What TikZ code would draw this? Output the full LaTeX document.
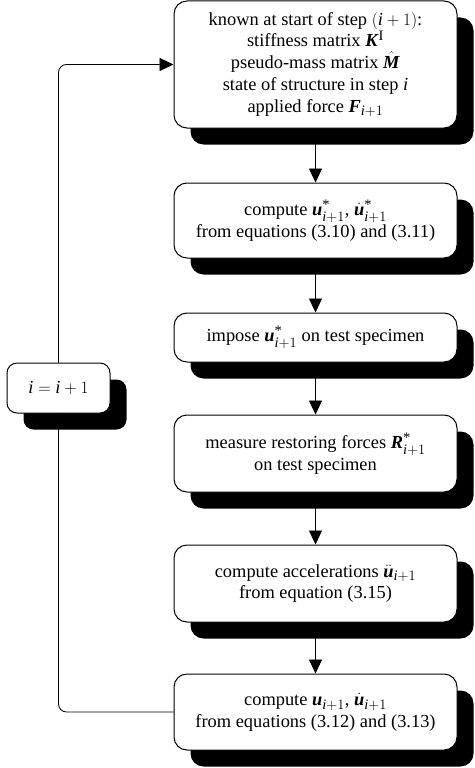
\documentclass[tikz,border=0pt]{standalone}
\usepackage{amsmath}
\usepackage{fontspec}
\setmainfont{Liberation Serif}
\usetikzlibrary{arrows.meta,shadows}
\DeclareMathSizes{18.4}{18.4}{14.5}{11}
\newcommand\vb[1]{\textbf{\textit{#1}}}
\newcommand\ii{\textit{i}}
\newcommand\st{\text{*}}
\begin{document}
\begin{tikzpicture}[x=1pt, y=-1pt, >={Triangle[length=14pt, width=13pt]}, line width=0.8pt,
        stepbox/.style={draw, line width=1pt, fill=white, rounded corners=13pt, align=center,
            minimum width=283pt, font=\fontsize{18.4}{21.7}\selectfont,
            drop shadow={shadow xshift=16.5pt, shadow yshift=-16.5pt, fill=black, opacity=1}},
        countbox/.style={stepbox, rounded corners=10pt, minimum width=103pt}]
        \useasboundingbox (0, 0) rectangle (474, 768);
        \node (known) at (315.5, 64.5) [stepbox, minimum height=127pt] {known at start of step $(\ii+1)$:\\stiffness matrix $\vb{K}^{\mathrm{I}}$\\pseudo-mass matrix $\hat{\vb{M}}$\\state of structure in step \ii\\applied force $\vb{F}_{\ii+1}$};
        \node (pred) at (315.5, 220.5) [stepbox, minimum height=75pt] {compute $\vb{u}^{\st}_{\ii+1}$, $\dot{\vb{u}}^{\st}_{\ii+1}$\\from equations (3.10) and (3.11)};
        \node (impose) at (315.5, 337.5) [stepbox, minimum height=49pt] {impose $\vb{u}^{\st}_{\ii+1}$ on test specimen};
        \node (measure) at (315.5, 453.5) [stepbox, minimum height=77pt] {measure restoring forces $\vb{R}^{\st}_{\ii+1}$\\on test specimen};
        \node (accel) at (315.5, 583.5) [stepbox, minimum height=77pt] {compute accelerations $\ddot{\vb{u}}_{\ii+1}$\\from equation (3.15)};
        \node (update) at (315.5, 712) [stepbox, minimum height=76pt] {compute $\vb{u}_{\ii+1}$, $\dot{\vb{u}}_{\ii+1}$\\from equations (3.12) and (3.13)};
        \node (incr) at (58.5, 388) [countbox, minimum height=50pt] {$\ii=\ii+1$};
        \draw[->] (known) -- (pred);
        \draw[->] (pred) -- (impose);
        \draw[->] (impose) -- (measure);
        \draw[->] (measure) -- (accel);
        \draw[->] (accel) -- (update);
        \draw[rounded corners=8pt] (update.west) -| (incr.south);
        \draw[->, rounded corners=8pt] (incr.north) |- (known.west);
    \end{tikzpicture}
\end{document}
